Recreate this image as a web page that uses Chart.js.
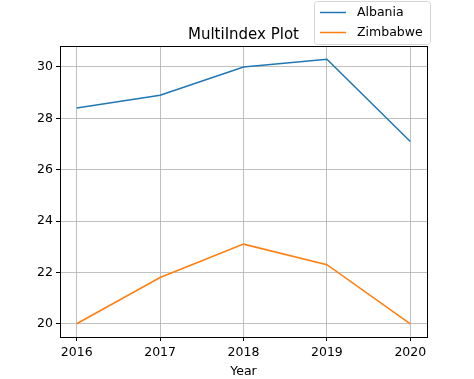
<!DOCTYPE html>
<html>
<head>
<meta charset="utf-8">
<script src="https://cdn.jsdelivr.net/npm/chart.js@4"></script>
<style>
  html, body { margin: 0; padding: 0; background: #fff; }
  #wrap { width: 474px; height: 379px; }
</style>
</head>
<body>
<div id="wrap"><canvas id="myChart" width="474" height="379"></canvas></div>
<script>
"use strict";

// chart data
const years = [2016, 2017, 2018, 2019, 2020];
const albania = [28.4, 28.9, 30.0, 30.3, 27.1];
const zimbabwe = [20.0, 21.8, 23.1, 22.3, 20.0];
const seriesNames = ["Albania", "Zimbabwe"];
const yTicks = [20, 22, 24, 26, 28, 30];

const font = "DejaVu Sans";
const colors = ["#1f77b4", "#ff7f0e"];

function toPoints(values) {
  return years.map((y, i) => ({ x: y, y: values[i] }));
}

// frame, title and legend like matplotlib
const extras = {
  id: "extras",
  afterDraw(chart) {
    const ctx = chart.ctx;
    const a = chart.chartArea;
    ctx.save();
    ctx.strokeStyle = "#000";
    ctx.lineWidth = 1;
    ctx.strokeRect(Math.round(a.left) + 0.5, Math.round(a.top) + 0.5,
      Math.round(a.right - a.left), Math.round(a.bottom - a.top));

    ctx.fillStyle = "#000";
    ctx.font = "15px '" + font + "'";
    ctx.textAlign = "center";
    ctx.textBaseline = "alphabetic";
    ctx.fillText("MultiIndex Plot", (a.left + a.right) / 2, 39);

    // legend box
    const bx = 314, by = 1, bw = 116, bh = 43;
    ctx.beginPath();
    ctx.roundRect(bx + 0.5, by + 0.5, bw, bh, 3);
    ctx.fillStyle = "rgba(255,255,255,0.8)";
    ctx.fill();
    ctx.strokeStyle = "#d6d6d6";
    ctx.stroke();

    ctx.font = "12.5px '" + font + "'";
    ctx.textAlign = "left";
    ctx.textBaseline = "middle";
    seriesNames.forEach((name, i) => {
      const yy = 12.5 + i * 20;
      ctx.strokeStyle = colors[i];
      ctx.lineWidth = 1.5;
      ctx.beginPath();
      ctx.moveTo(320, yy);
      ctx.lineTo(346, yy);
      ctx.stroke();
      ctx.fillStyle = "#000";
      ctx.fillText(name, 357, yy);
    });
    ctx.restore();
  },
};

const config = {
  type: "line",
  data: {
    datasets: [
      {
        label: seriesNames[0],
        data: toPoints(albania),
        borderColor: colors[0],
        borderWidth: 1.5,
        pointRadius: 0,
        tension: 0,
      },
      {
        label: seriesNames[1],
        data: toPoints(zimbabwe),
        borderColor: colors[1],
        borderWidth: 1.5,
        pointRadius: 0,
        tension: 0,
      },
    ],
  },
  options: {
    responsive: false,
    animation: false,
    layout: { padding: { top: 46, right: 47, left: 0, bottom: 0 } },
    plugins: {
      legend: { display: false },
      title: { display: false },
      tooltip: { enabled: false },
    },
    scales: {
      x: {
        type: "linear",
        min: 2015.8,
        max: 2020.2,
        afterBuildTicks: (scale) => {
          scale.ticks = years.map((v) => ({ value: v }));
        },
        afterFit: (scale) => {
          scale.height = 42;
        },
        grid: {
          color: "#b0b0b0",
          lineWidth: 0.8,
          drawTicks: true,
          tickLength: 4,
          tickColor: "#000",
          tickWidth: 1,
        },
        border: { display: false },
        ticks: {
          color: "#000",
          font: { family: font, size: 12.5 },
          padding: 4,
          maxRotation: 0,
          callback: (v) => String(v),
        },
        title: {
          display: true,
          text: "Year",
          color: "#000",
          font: { family: font, size: 12.5 },
          padding: { top: -3, bottom: 0 },
        },
      },
      y: {
        min: 19.485,
        max: 30.815,
        afterBuildTicks: (scale) => {
          scale.ticks = yTicks.map((v) => ({ value: v }));
        },
        afterFit: (scale) => {
          scale.width = 60;
        },
        grid: {
          color: "#b0b0b0",
          lineWidth: 0.8,
          drawTicks: true,
          tickLength: 4,
          tickColor: "#000",
          tickWidth: 1,
        },
        border: { display: false },
        ticks: {
          color: "#000",
          font: { family: font, size: 12.5 },
          padding: 3,
        },
      },
    },
  },
  plugins: [extras],
};

const canvasChart = document.getElementById("myChart");
new Chart(canvasChart, config);
</script>
</body>
</html>
